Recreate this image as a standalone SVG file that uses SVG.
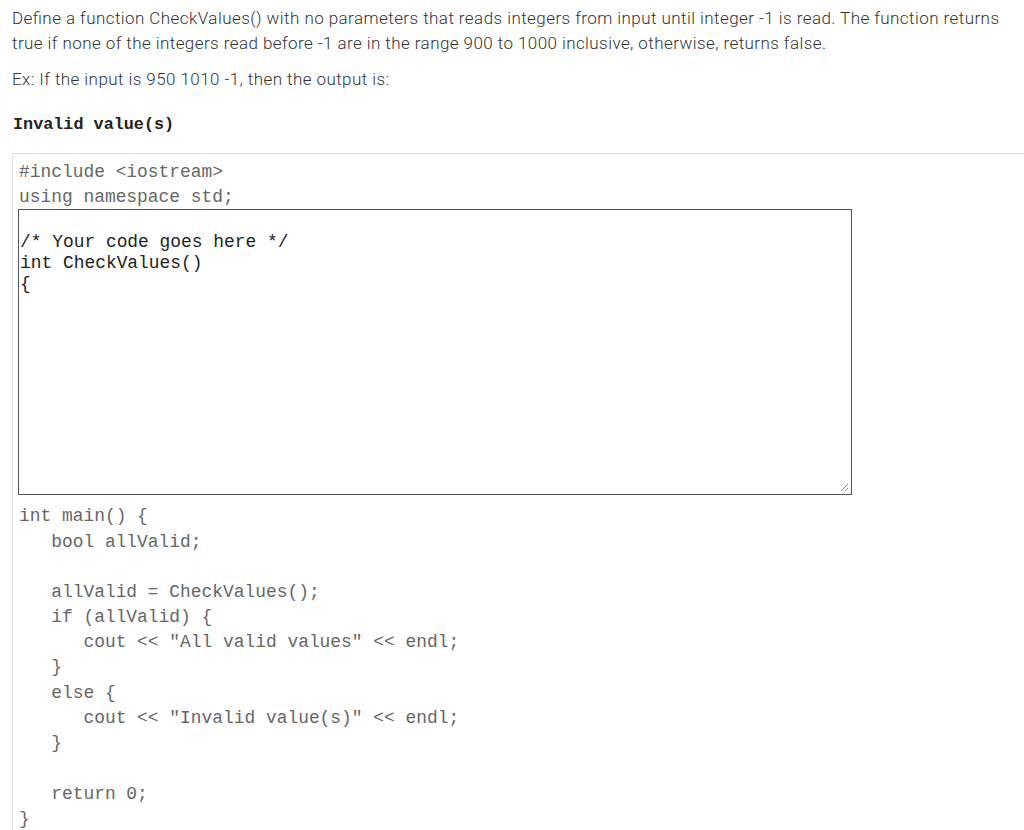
<svg xmlns="http://www.w3.org/2000/svg" width="1024" height="830" viewBox="0 0 1024 830">
<style>
.p{font-family:Roboto,"Liberation Sans",sans-serif;font-size:17px;fill:#333;font-weight:300}
.c{font-family:"Liberation Mono","Courier New",monospace;font-size:17.9px;fill:#666;white-space:pre}
.t{fill:#222}
</style>
<rect width="1024" height="830" fill="#fff"/>
<text class="p" x="12" y="24" textLength="987">Define a function CheckValues() with no parameters that reads integers from input until integer -1 is read. The function returns</text>
<text class="p" x="12" y="49" textLength="814">true if none of the integers read before -1 are in the range 900 to 1000 inclusive, otherwise, returns false.</text>
<text class="p" x="12" y="85" textLength="377">Ex: If the input is 950 1010 -1, then the output is:</text>
<text x="13" y="129" style="font-family:'Liberation Mono',monospace;font-size:16.8px;font-weight:bold;fill:#222" xml:space="preserve">Invalid value(s)</text>
<g id="editor">
<path d="M12.5 830 V153.5 H1024" fill="none" stroke="#ddd"/>
<text class="c" x="19" y="177" xml:space="preserve">#include &lt;iostream&gt;</text>
<text class="c" x="19" y="202" xml:space="preserve">using namespace std;</text>
<rect x="18.5" y="209.5" width="833" height="285" fill="#fff" stroke="#555"/>
<path d="M841 491 L848 484 M845 491 L848 488" stroke="#888" stroke-width="1"/>
<text class="c t" x="20" y="247" xml:space="preserve">/* Your code goes here */</text>
<text class="c t" x="20" y="268" xml:space="preserve">int CheckValues()</text>
<text class="c t" x="20" y="289" xml:space="preserve">{</text>
<text class="c" x="19" y="521" xml:space="preserve">int main() {</text>
<text class="c" x="19" y="547" xml:space="preserve">   bool allValid;</text>
<text class="c" x="19" y="597" xml:space="preserve">   allValid = CheckValues();</text>
<text class="c" x="19" y="622" xml:space="preserve">   if (allValid) {</text>
<text class="c" x="19" y="647" xml:space="preserve">      cout &lt;&lt; "All valid values" &lt;&lt; endl;</text>
<text class="c" x="19" y="672" xml:space="preserve">   }</text>
<text class="c" x="19" y="698" xml:space="preserve">   else {</text>
<text class="c" x="19" y="723" xml:space="preserve">      cout &lt;&lt; "Invalid value(s)" &lt;&lt; endl;</text>
<text class="c" x="19" y="748" xml:space="preserve">   }</text>
<text class="c" x="19" y="799" xml:space="preserve">   return 0;</text>
<text class="c" x="19" y="824" xml:space="preserve">}</text>
</g>
</svg>
